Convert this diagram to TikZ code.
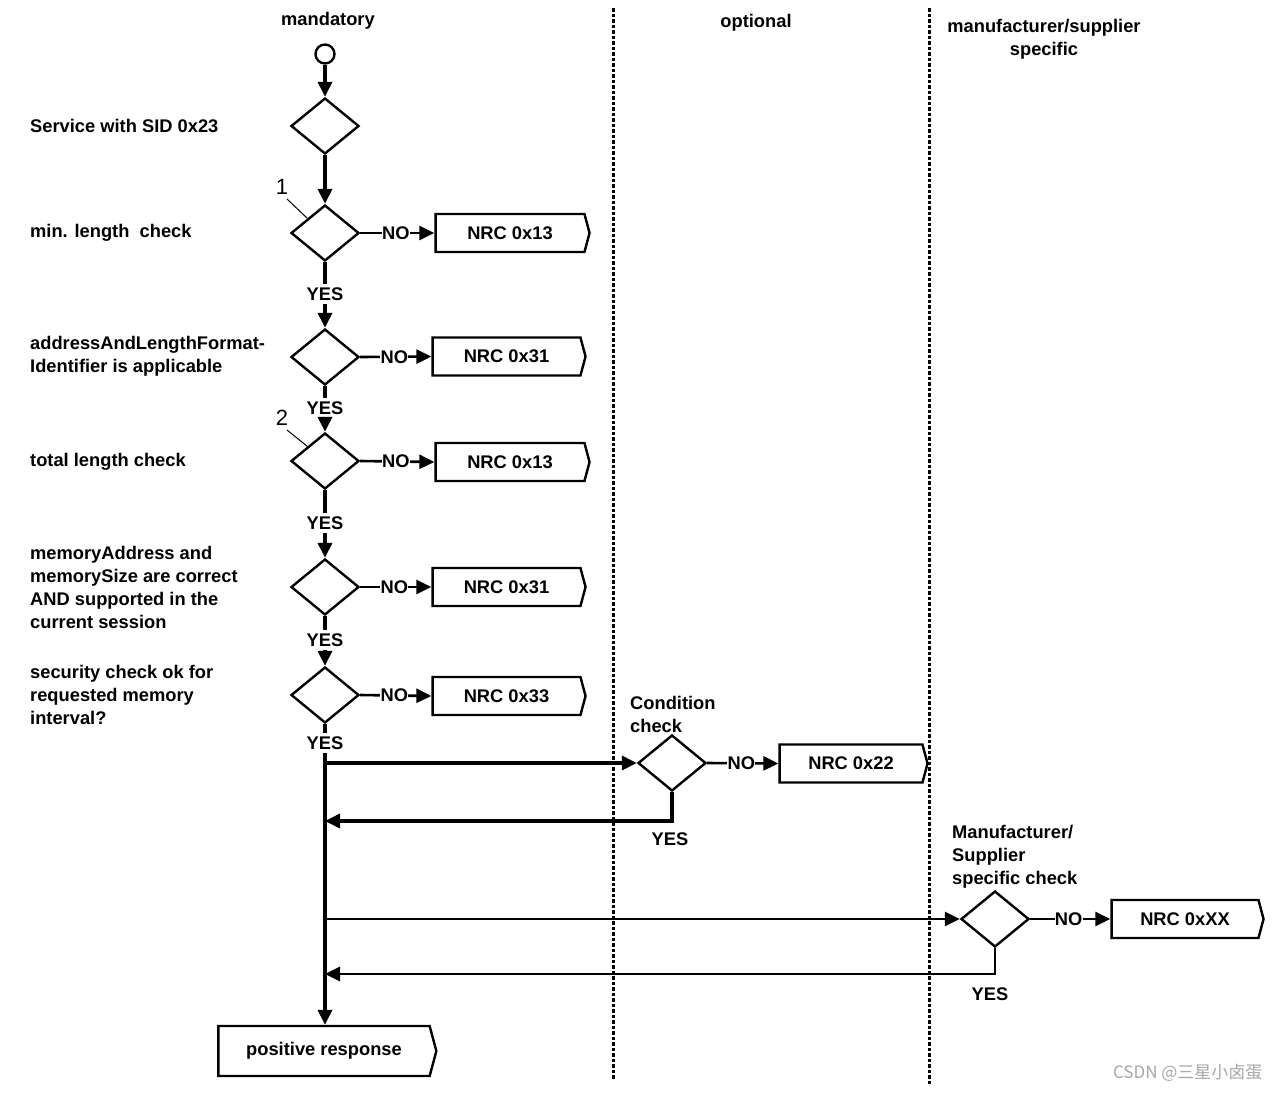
\documentclass[tikz,border=0pt]{standalone}
\usepackage{fontspec}
\setmainfont{Liberation Sans}
\newfontfamily\cjk{Noto Sans CJK SC}
\usetikzlibrary{shapes.geometric,shapes.symbols,arrows.meta,calc}
\begin{document}
\begin{tikzpicture}[x=1pt,y=-1pt,
  every node/.style={font=\fontsize{18.3}{23}\selectfont\bfseries},
  dia/.style={draw,diamond,line width=2.4pt,minimum width=68pt,minimum height=56pt,inner sep=0pt,aspect=1.2},
  nrc/.style={draw,signal,signal to=east,signal pointer angle=150,line width=2.4pt,minimum height=38pt,inner sep=2pt},
  txt/.style={align=left,anchor=west,inner xsep=0pt},
  arr/.style={line width=3.6pt,-{Triangle[length=15pt,width=14pt]}},
  ln/.style={line width=3.6pt},
  arr2/.style={line width=2.8pt,-{Triangle[length=15pt,width=14pt]}},
  noarr/.style={line width=2.6pt,-{Triangle[length=15pt,width=14pt]}},
  sep/.style={line width=3pt,dash pattern=on 3.5pt off 2pt}]
\useasboundingbox (0,0) rectangle (1280,1093);
% separators
\draw[sep] (613,8) -- (613,1080);
\draw[sep] (929,8) -- (929,1085);
% headings
\node (h1) at (328,21) {mandatory};
\node (h2) at (756,23) {optional};
\node[align=center] (h3) at (1044,39) {manufacturer/supplier\\specific};
% left texts
\node[txt] (t1) at (30,126) {Service with SID 0x23};
\node[txt] (t2) at (30,233) {min. length\ \ check};
\node[txt] (t3) at (30,356) {addressAndLengthFormat-\\Identifier is applicable};
\node[txt] (t4) at (30,462) {total length check};
\node[txt] (t5) at (30,587) {memoryAddress and\\memorySize are correct\\AND supported in the\\current session};
\node[txt] (t6) at (30,695) {security check ok for\\requested memory\\interval?};
% start
\node[draw,circle,line width=2.4pt,minimum size=19pt,inner sep=0pt] (s) at (325,54) {};
% diamonds
\node[dia] (d1) at (325,126) {};
\node[dia] (d2) at (325,233) {};
\node[dia] (d3) at (325,357) {};
\node[dia] (d4) at (325,461) {};
\node[dia] (d5) at (325,587) {};
\node[dia] (d6) at (325,695) {};
\node[dia] (dc) at (672,763) {};
\node[dia] (dm) at (995,919) {};
% nrc boxes
\node[nrc,minimum width=154pt] (n1) at (510,233) {NRC 0x13};
\node[nrc,minimum width=153pt] (n2) at (506.5,356.5) {NRC 0x31};
\node[nrc,minimum width=154pt] (n3) at (510,462) {NRC 0x13};
\node[nrc,minimum width=153pt] (n4) at (506.5,587) {NRC 0x31};
\node[nrc,minimum width=153pt] (n5) at (506.5,696) {NRC 0x33};
\node[nrc,minimum width=148pt] (n6) at (851,763.5) {NRC 0x22};
\node[nrc,minimum width=152pt] (n7) at (1185,919) {NRC 0xXX};
\node[nrc,minimum width=218pt,minimum height=50pt] (pr) at (324,1051) {positive response};
% numbers
\node[font=\fontsize{22}{24}\selectfont] (l1) at (282,187) {1};
\node[font=\fontsize{22}{24}\selectfont] (l2) at (282,418) {2};
\draw[line width=1pt] (287,199) -- ($(d2.north)!0.5!(d2.west)$);
\draw[line width=1pt] (287,430) -- ($(d4.north)!0.5!(d4.west)$);
% YES labels
\node (y2) at (325,294) {YES};
\node (y3) at (325,408) {YES};
\node (y4) at (325,523) {YES};
\node (y5) at (325,640) {YES};
\node (y6) at (325,743) {YES};
\node (yc) at (670,839) {YES};
\node (ym) at (990,994) {YES};
% main chain
\draw[arr] (s) -- (d1);
\draw[arr] (d1) -- (d2);
\foreach \a/\b/\c in {d2/y2/d3,d3/y3/d4,d4/y4/d5,d5/y5/d6}{
  \draw[ln] (\a.south) -- (\b.north);
  \draw[arr] (\b.south) -- (\c.north);
}
\draw[ln] (d6.south) -- (y6.north);
% NO branches
\foreach \d/\n in {d2/n1,d3/n2,d4/n3,d5/n4,d6/n5,dc/n6,dm/n7}{
  \draw[noarr] (\d.east) -- node[fill=white,inner sep=0.3pt,pos=0.48] {NO} (\n.west);
}
% main trunk
\coordinate (c1) at (325,763);
\coordinate (c2) at (325,821);
\coordinate (c3) at (325,919);
\coordinate (c4) at (325,974);
\draw[arr] (y6.south) -- (y6.south |- pr.north);
\draw[arr] (c1) -- (dc.west);
\draw[arr] (dc.south) |- (c2);
\draw[arr2] (c3) -- (dm.west);
\draw[arr2] (dm.south) |- (c4);
% branch texts
\node[txt] (tc) at (630,714) {Condition\\check};
\node[txt] (tm) at (952,857) {Manufacturer/\\Supplier\\specific check};
\node[anchor=east,text=gray!70,font=\fontsize{17}{20}\selectfont\cjk] (wm) at (1266,1073) {CSDN @三星小卤蛋};
\end{tikzpicture}
\end{document}
